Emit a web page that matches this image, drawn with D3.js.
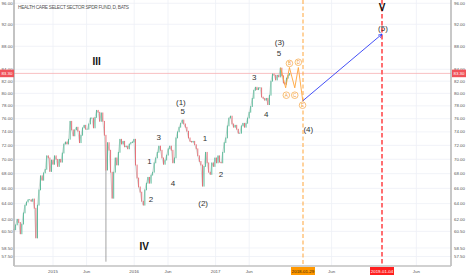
<!DOCTYPE html>
<html>
<head>
<meta charset="utf-8">
<script src="https://cdn.jsdelivr.net/npm/d3@7"></script>
<style>
  body { margin: 0; background: #fff; }
  svg { display: block; font-family: "Liberation Sans", Arial, sans-serif; }
</style>
</head>
<body>
<div id="chart"></div>
<script>
const title = 'HEALTH CARE SELECT SECTOR SPDR FUND, D, BATS'

const firstWeek = '2014-07-10'
const weeklyCloses = [
  60.7, 61.3, 62.0, 61.6, 60.2, 61.4, 62.8, 63.8, 64.2, 64.5,
  64.5, 64.3, 64.6, 63.4, 59.7, 63.8, 65.8, 67.7, 67.1, 68.1,
  68.6, 70.5, 70.2, 68.3, 69.9, 69.3, 70.5, 70.0, 69.0, 70.0,
  69.6, 70.9, 72.2, 72.5, 72.2, 72.9, 75.6, 74.3, 73.4, 74.3,
  74.7, 74.1, 72.4, 73.5, 74.6, 75.0, 74.4, 74.4, 75.2, 76.1,
  76.1, 74.6, 76.2, 77.3, 77.0, 75.6, 76.9, 75.6, 73.5, 68.5,
  72.4, 71.3, 68.2, 64.7, 68.2, 70.2, 69.2, 71.0, 72.9, 72.2,
  72.6, 71.8, 71.9, 71.5, 72.2, 72.4, 72.5, 72.9, 69.2, 67.4,
  66.2, 65.5, 64.3, 63.8, 65.8, 66.7, 67.5, 66.7, 67.8, 68.2,
  69.5, 70.2, 71.0, 71.9, 71.3, 70.2, 69.3, 69.9, 70.6, 71.5,
  71.9, 71.3, 69.5, 70.2, 73.1, 74.0, 74.7, 75.3, 75.8, 75.2,
  74.7, 74.1, 73.1, 72.6, 72.5, 72.6, 72.1, 71.5, 70.5, 69.7,
  69.2, 66.3, 69.0, 71.0, 69.5, 68.2, 67.9, 69.5, 69.0, 70.2,
  69.5, 70.5, 69.6, 69.5, 71.0, 72.4, 73.1, 74.9, 76.1, 76.4,
  75.2, 74.7, 75.0, 74.4, 73.8, 73.8, 74.9, 75.3, 74.7, 75.3,
  76.1, 77.0, 77.9, 79.2, 80.5, 81.0, 80.6, 80.9, 80.9, 79.4,
  79.2, 78.9, 79.2, 78.2, 79.7, 82.0, 83.2, 83.0, 82.2, 83.0,
  82.7, 84.2, 82.9, 81.7, 81.5, 82.5, 83.0, 83.3
]
// long lower wick (aug 2015)
const spikeWeeks = [59]
const spikeLows = [56.9]
const lastPrice = 83.30

const priceTicks = [96, 92, 88, 84, 82, 80, 78, 76, 74, 72, 70, 68, 66, 64, 62, 60.5, 58.5, 57.5]
const timeTicks = ['2015-01-01', '2015-06-01', '2016-01-01', '2016-06-01', '2017-01-01', '2017-06-01', '2018-06-01', '2019-06-01']
const timeTickLabels = ['2015', 'Jun', '2016', 'Jun', '2017', 'Jun', 'Jun', 'Jun']
const markerDates = ['2018-01-29', '2019-01-04']

// orange triangle projection
const triDates = ['2017-10-20', '2017-11-12', '2017-11-29', '2017-12-23', '2018-01-08', '2018-01-28']
const triPrices = [84.3, 80.9, 84.3, 80.9, 84.3, 78.8]
const triNames = ['A', 'B', 'C', 'D', 'E']
const triLabelDates = ['2017-11-15', '2017-11-29', '2017-12-23', '2018-01-08', '2018-01-27']
const triLabelPrices = [79.7, 85.0, 79.7, 85.2, 78.1]

// blue target arrow
const arrowDates = ['2018-01-28', '2019-01-04']
const arrowPrices = [78.8, 90.2]

// wave counts
const waveTexts = ['III', 'IV', 'V', '(5)', '(3)', '5', '3', '4', '(4)', '(1)', '5', '3', '1', '4', '2', '(2)', '1', '2']
const waveDates = ['2015-07-16', '2016-02-15', '2019-01-04', '2019-01-08', '2017-10-16', '2017-10-13', '2017-06-24', '2017-08-17', '2018-02-21',
  '2016-07-29', '2016-08-06', '2016-04-20', '2016-03-10', '2016-06-23', '2016-03-16', '2016-11-06', '2016-11-14', '2017-01-25']
const wavePrices = [85.3, 58.7, 95.2, 91.3, 88.8, 86.8, 82.6, 76.7, 74.4, 78.6, 77.2, 73.2, 69.7, 66.7, 64.6, 64.1, 73.1, 68.0]

const width = 466
const height = 275
const left = 14
const right = 451
const bottom = 266

const parse = d3.timeParse('%Y-%m-%d')

const x = d3.scaleTime()
  .domain([parse('2015-01-01'), parse('2018-01-29'), parse('2019-01-04')])
  .range([53, 303, 382])

const y = d3.scaleLog()
  .domain([57.5, 96])
  .range([256.5, 3.3])

const svg = d3.select('#chart').append('svg')
  .attr('width', width)
  .attr('height', height)

// grid
svg.append('g').selectAll('line').data(priceTicks).enter().append('line')
  .attr('x1', left).attr('x2', right)
  .attr('y1', d => y(d)).attr('y2', d => y(d))
  .attr('stroke', '#edf0f6').attr('stroke-width', 0.8)

svg.append('g').selectAll('line').data(timeTicks).enter().append('line')
  .attr('x1', d => x(parse(d))).attr('x2', d => x(parse(d)))
  .attr('y1', 0).attr('y2', bottom)
  .attr('stroke', '#edf0f6').attr('stroke-width', 0.8)

// last price line
svg.append('line')
  .attr('x1', left).attr('x2', right)
  .attr('y1', y(lastPrice)).attr('y2', y(lastPrice))
  .attr('stroke', '#f6b0b3').attr('stroke-width', 0.8)

// vertical date markers
svg.append('line')
  .attr('x1', x(parse(markerDates[0]))).attr('x2', x(parse(markerDates[0])))
  .attr('y1', 0).attr('y2', bottom)
  .attr('stroke', '#ffa53a').attr('stroke-width', 1)
  .attr('stroke-dasharray', '4,2.5')

svg.append('line')
  .attr('x1', x(parse(markerDates[1]))).attr('x2', x(parse(markerDates[1])))
  .attr('y1', 0).attr('y2', bottom)
  .attr('stroke', '#ff5f62').attr('stroke-width', 1.8)
  .attr('stroke-dasharray', '4.5,2.5')

// candles
const start = parse(firstWeek)
const bars = weeklyCloses.map((c, i) => ({
  date: d3.timeDay.offset(start, 7 * i),
  open: i ? weeklyCloses[i - 1] : c,
  close: c
}))

spikeWeeks.forEach((w, i) => {
  svg.append('line')
    .attr('x1', x(bars[w].date)).attr('x2', x(bars[w].date))
    .attr('y1', y(Math.min(bars[w].open, bars[w].close)))
    .attr('y2', y(spikeLows[i]))
    .attr('stroke', '#8c8c8c').attr('stroke-width', 0.8)
})

// thin line through the closes so the bars read as one path
svg.append('path')
  .attr('d', d3.line().x(d => x(d.date)).y(d => y(d.close))(bars))
  .attr('fill', 'none')
  .attr('stroke', '#9fb9ae')
  .attr('stroke-width', 0.5)

svg.append('g').selectAll('rect').data(bars).enter().append('rect')
  .attr('x', d => x(d.date) - 0.45)
  .attr('width', 0.9)
  .attr('y', d => y(Math.max(d.open, d.close)) - 0.4)
  .attr('height', d => Math.abs(y(d.open) - y(d.close)) + 0.8)
  .attr('fill', d => d.close >= d.open ? '#4fb592' : '#e5646d')

// triangle zigzag
const tri = triDates.map((d, i) => [x(parse(d)), y(triPrices[i])])
svg.append('path')
  .attr('d', d3.line()(tri))
  .attr('fill', 'none')
  .attr('stroke', '#ffa53a')
  .attr('stroke-width', 0.9)

// arrow
svg.append('defs').append('marker')
  .attr('id', 'head')
  .attr('viewBox', '0 0 10 10')
  .attr('refX', 9).attr('refY', 5)
  .attr('markerWidth', 5).attr('markerHeight', 5)
  .attr('orient', 'auto')
  .append('path')
  .attr('d', 'M0,1L10,5L0,9')
  .attr('fill', 'none')
  .attr('stroke', '#2f3cf5')
  .attr('stroke-width', 1.6)

svg.append('line')
  .attr('x1', x(parse(arrowDates[0]))).attr('y1', y(arrowPrices[0]))
  .attr('x2', x(parse(arrowDates[1]))).attr('y2', y(arrowPrices[1]))
  .attr('stroke', '#2f3cf5').attr('stroke-width', 0.9)
  .attr('marker-end', 'url(#head)')

// triangle labels
const circles = svg.append('g').selectAll('g').data(triNames).enter().append('g')
  .attr('transform', (d, i) => `translate(${x(parse(triLabelDates[i]))},${y(triLabelPrices[i])})`)
circles.append('circle')
  .attr('r', 3.3)
  .attr('fill', '#fff')
  .attr('stroke', '#f5a440')
  .attr('stroke-width', 0.7)
circles.append('text')
  .text(d => d)
  .attr('text-anchor', 'middle')
  .attr('dy', '0.36em')
  .attr('font-size', '4.6px')
  .attr('fill', '#f0a040')

// wave labels
svg.append('g').selectAll('text').data(waveTexts).enter().append('text')
  .text(d => d)
  .attr('x', (d, i) => x(parse(waveDates[i])))
  .attr('y', (d, i) => y(wavePrices[i]))
  .attr('dy', '0.36em')
  .attr('text-anchor', 'middle')
  .attr('font-size', d => /^[IV]+$/.test(d) ? '10px' : '8px')
  .attr('font-weight', d => /^[IV]+$/.test(d) ? 'bold' : 'normal')
  .attr('fill', d => /^[IV]+$/.test(d) ? '#111' : '#333')

// title
svg.append('text')
  .text(title)
  .attr('x', 18).attr('y', 8.6)
  .attr('font-size', '4.8px')
  .attr('textLength', 111)
  .attr('fill', '#555')

// axis lines
svg.append('line').attr('x1', left).attr('x2', left).attr('y1', 0).attr('y2', bottom)
  .attr('stroke', '#a3a3a3').attr('stroke-width', 1.3)
svg.append('line').attr('x1', right).attr('x2', right).attr('y1', 0).attr('y2', bottom)
  .attr('stroke', '#a3a3a3').attr('stroke-width', 1.2)
svg.append('line').attr('x1', left).attr('x2', right).attr('y1', bottom).attr('y2', bottom)
  .attr('stroke', '#c2c2c2').attr('stroke-width', 1.4)

// price axis labels, both sides
const fmt = d3.format('.2f')
svg.append('g').selectAll('text').data(priceTicks).enter().append('text')
  .text(d => fmt(d))
  .attr('x', 12.6).attr('y', d => y(d)).attr('dy', '0.35em')
  .attr('text-anchor', 'end')
  .attr('font-size', '4.4px').attr('fill', '#555')
svg.append('g').selectAll('text').data(priceTicks).enter().append('text')
  .text(d => fmt(d))
  .attr('x', 454).attr('y', d => y(d)).attr('dy', '0.35em')
  .attr('font-size', '4.4px').attr('fill', '#555')

// time axis labels
svg.append('g').selectAll('text').data(timeTicks).enter().append('text')
  .text((d, i) => timeTickLabels[i])
  .attr('x', d => x(parse(d))).attr('y', 271).attr('dy', '0.35em')
  .attr('text-anchor', 'middle')
  .attr('font-size', '4.4px').attr('fill', '#555')

// last price boxes
;[[0, 6.9], [452, 459]].forEach(([bx, tx]) => {
  svg.append('rect')
    .attr('x', bx).attr('y', y(lastPrice) - 3.8)
    .attr('width', 14).attr('height', 7.6)
    .attr('fill', '#f0525a')
  svg.append('text')
    .text(fmt(lastPrice))
    .attr('x', tx).attr('y', y(lastPrice)).attr('dy', '0.35em')
    .attr('text-anchor', 'middle')
    .attr('font-size', '4.4px').attr('fill', '#fff')
})

// date marker boxes
const markerFill = ['#ff9800', '#ff1f1f']
const markerText = ['#3a2300', '#fff']
markerDates.forEach((d, i) => {
  const mx = x(parse(d))
  svg.append('rect')
    .attr('x', mx - 12).attr('y', 267)
    .attr('width', 24).attr('height', 8)
    .attr('fill', markerFill[i])
  svg.append('text')
    .text(d)
    .attr('x', mx).attr('y', 271).attr('dy', '0.35em')
    .attr('text-anchor', 'middle')
    .attr('font-size', '4.4px').attr('fill', markerText[i])
})
</script>
</body>
</html>
